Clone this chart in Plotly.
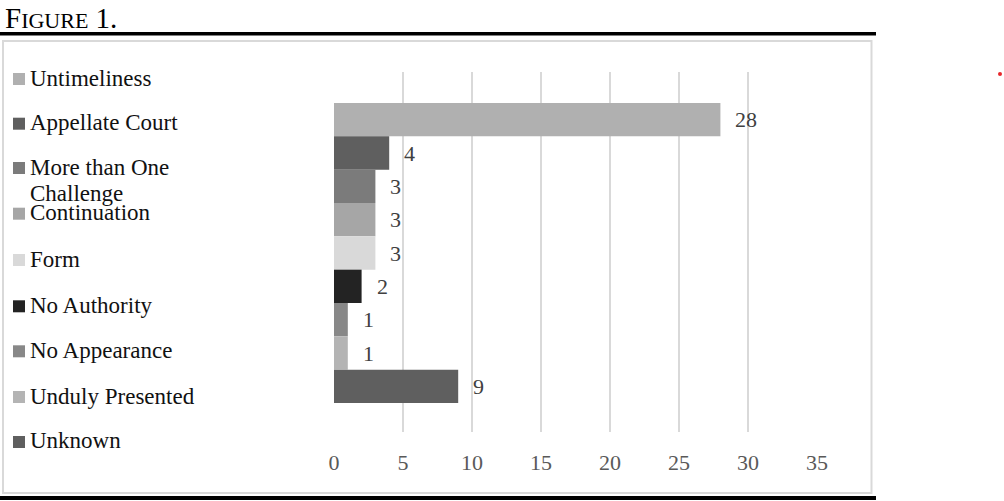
import plotly.graph_objects as go

categories = ["Untimeliness", "Appellate Court", "More than One Challenge", "Continuation",
              "Form", "No Authority", "No Appearance", "Unduly Presented", "Unknown"]
values = [28, 4, 3, 3, 3, 2, 1, 1, 9]
colors = ["#b0b0b0", "#5f5f5f", "#7b7b7b", "#a6a6a6", "#d9d9d9", "#232323", "#888888", "#b4b4b4", "#5f5f5f"]
tick_vals = [0, 5, 10, 15, 20, 25, 30, 35]

W, H = 1004, 501
L, R, T, B = 334, 817, 72, 432  # plot area pixels

def px_x(p):
    return (p - L) / (R - L)

def px_y(p):
    return (B - p) / (B - T)

FONT = "Liberation Serif"

fig = go.Figure()
for i, (c, v, col) in enumerate(zip(categories, values, colors)):
    fig.add_trace(go.Bar(x=[v], y=[i], orientation="h", width=1.0,
                         marker=dict(color=col, line=dict(width=0)),
                         name=c, showlegend=False, hoverinfo="x+name"))

annotations = []
# data labels
for i, v in enumerate(values):
    annotations.append(dict(x=v, y=i, xref="x", yref="y", text=str(v), showarrow=False,
                            xanchor="left", yanchor="middle", xshift=13,
                            font=dict(family=FONT, size=22, color="#404040")))

shapes = []
# legend (manual, to match spacing)
baselines = [86, 130.7, 175, 220.7, 267, 313.3, 358.3, 404, 449]
for i, (c, col, bl) in enumerate(zip(categories, colors, baselines)):
    if c == "More than One Challenge":
        lines = [("More than One", bl), ("Challenge", 201.7)]
    else:
        lines = [(c, bl)]
    for txt, b in lines:
        annotations.append(dict(x=px_x(28), y=px_y(b - 8), xref="paper", yref="paper", text=txt,
                                showarrow=False, xanchor="left", yanchor="middle",
                                font=dict(family=FONT, size=23, color="#111111")))
    sq_c = bl - 7
    shapes.append(dict(type="rect", xref="paper", yref="paper",
                       x0=px_x(13), x1=px_x(25), y0=px_y(sq_c - 6), y1=px_y(sq_c + 6),
                       fillcolor=col, line=dict(width=0)))

# title
annotations.append(dict(x=px_x(3), y=px_y(18), xref="paper", yref="paper",
                        text="F<span style='font-size:22px'>IGURE</span> 1.",
                        showarrow=False, xanchor="left", yanchor="middle",
                        font=dict(family=FONT, size=29, color="#000000")))

# rules and frame
shapes.append(dict(type="rect", xref="paper", yref="paper", x0=px_x(0), x1=px_x(876),
                   y0=px_y(32), y1=px_y(35.5), fillcolor="#000000", line=dict(width=0)))
shapes.append(dict(type="rect", xref="paper", yref="paper", x0=px_x(0), x1=px_x(876),
                   y0=px_y(496), y1=px_y(500), fillcolor="#000000", line=dict(width=0)))
shapes.append(dict(type="rect", xref="paper", yref="paper", x0=px_x(3), x1=px_x(871.5),
                   y0=px_y(41), y1=px_y(493), fillcolor="rgba(0,0,0,0)",
                   line=dict(color="#d9d9d9", width=2), layer="below"))
# small red dot
shapes.append(dict(type="circle", xref="paper", yref="paper", x0=px_x(998), x1=px_x(1002),
                   y0=px_y(72), y1=px_y(76), fillcolor="#e8262b", line=dict(width=0)))

fig.update_layout(
    width=W, height=H,
    margin=dict(l=L, r=W - R, t=T, b=H - B, pad=0),
    paper_bgcolor="#ffffff", plot_bgcolor="rgba(0,0,0,0)",
    barmode="overlay",
    showlegend=False,
    annotations=annotations,
    shapes=shapes,
    xaxis=dict(range=[0, 35], tickvals=tick_vals, showgrid=True, gridcolor="#d9d9d9", gridwidth=1.5,
               zeroline=False, showline=False, ticks="", ticklabelstandoff=15,
               tickfont=dict(family=FONT, size=22, color="#595959"), fixedrange=True),
    yaxis=dict(range=[9.37, -1.43], showgrid=False, zeroline=False, showticklabels=False,
               showline=False, fixedrange=True),
)

fig.write_html("out.html", config={"displayModeBar": False},
               post_script="document.body.style.margin='0';document.body.style.overflow='hidden';")
